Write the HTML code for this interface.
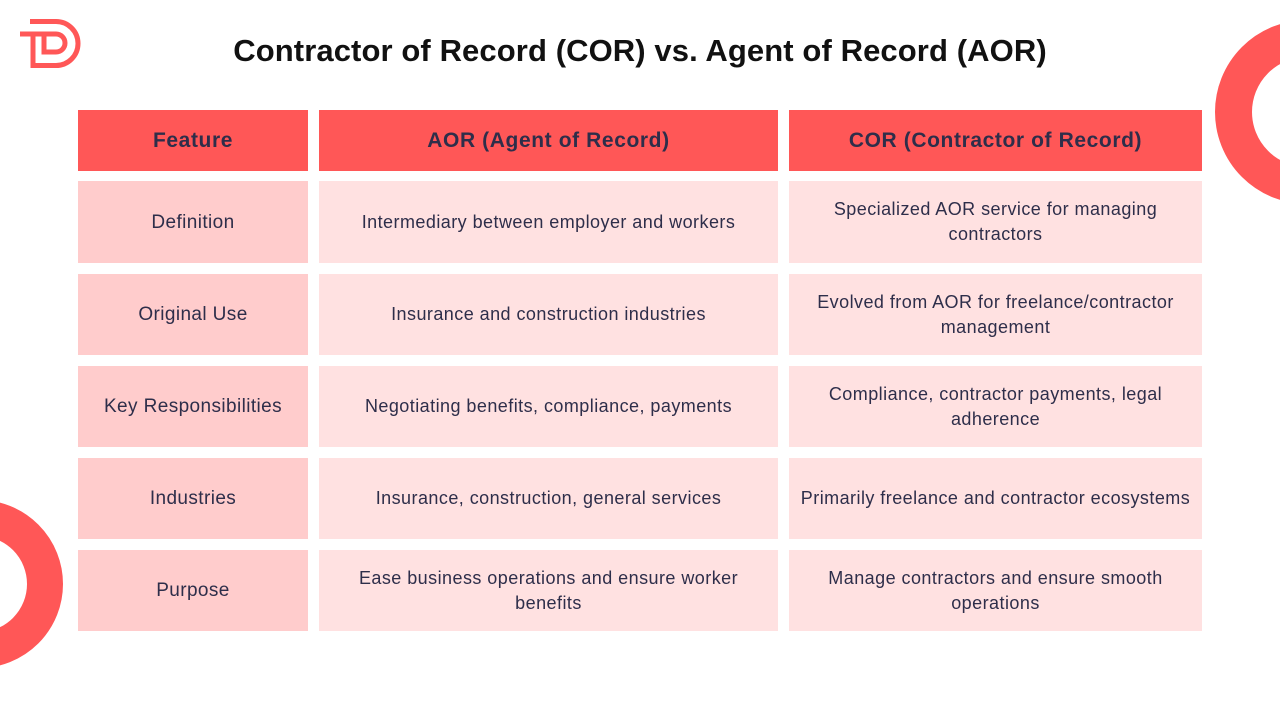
<!DOCTYPE html>
<html><head><meta charset="utf-8"><style>
body{margin:0;width:1280px;height:720px;background:#fff;position:relative;overflow:hidden;font-family:"Liberation Sans",sans-serif}
.t{position:absolute;left:0;width:1280px;top:33px;text-align:center;font-size:31px;font-weight:bold;color:#111;letter-spacing:0.1px}
.c{position:absolute;display:flex;align-items:center;justify-content:center;text-align:center;color:#2e2e4a;font-size:18px;letter-spacing:0.45px;line-height:25px;box-sizing:border-box;padding:0 10px}
.h{background:#ff5757;font-size:21px;font-weight:bold;letter-spacing:0.6px}
.f{background:#ffcccc;font-size:19px;letter-spacing:0.4px}
.o{background:#ffe1e1}
.ring{position:absolute;border-radius:50%;border-style:solid;border-color:#ff5757;box-sizing:border-box}
</style></head><body>
<div class="ring" style="left:1215px;top:20px;width:184px;height:184px;border-width:37px"></div>
<div class="ring" style="left:-105px;top:500px;width:168px;height:168px;border-width:36px"></div>
<svg style="position:absolute;left:18px;top:18px" width="68" height="52" viewBox="0 0 68 52">
<g fill="none" stroke="#ff5757" stroke-width="5">
<path d="M12 3.5 H38 A22 22 0 0 1 38 47.5 H15 V16"/>
<path d="M2 16 H38 A9 9 0 0 1 38 34 H26 V16"/>
</g></svg>
<div class="t">Contractor of Record (COR) vs. Agent of Record (AOR)</div>
<div class="c h" style="left:78px;top:110px;width:230px;height:61px">Feature</div>
<div class="c h" style="left:319px;top:110px;width:459px;height:61px">AOR (Agent of Record)</div>
<div class="c h" style="left:789px;top:110px;width:413px;height:61px">COR (Contractor of Record)</div>

<div class="c f" style="left:78px;top:181px;width:230px;height:82px">Definition</div>
<div class="c o" style="left:319px;top:181px;width:459px;height:82px">Intermediary between employer and workers</div>
<div class="c o" style="left:789px;top:181px;width:413px;height:82px;padding:0 30px">Specialized AOR service for managing contractors</div>

<div class="c f" style="left:78px;top:274px;width:230px;height:81px">Original Use</div>
<div class="c o" style="left:319px;top:274px;width:459px;height:81px">Insurance and construction industries</div>
<div class="c o" style="left:789px;top:274px;width:413px;height:81px;padding:0 20px">Evolved from AOR for freelance/contractor management</div>

<div class="c f" style="left:78px;top:366px;width:230px;height:81px">Key Responsibilities</div>
<div class="c o" style="left:319px;top:366px;width:459px;height:81px">Negotiating benefits, compliance, payments</div>
<div class="c o" style="left:789px;top:366px;width:413px;height:81px;padding:0 30px">Compliance, contractor payments, legal adherence</div>

<div class="c f" style="left:78px;top:458px;width:230px;height:81px">Industries</div>
<div class="c o" style="left:319px;top:458px;width:459px;height:81px">Insurance, construction, general services</div>
<div class="c o" style="left:789px;top:458px;width:413px;height:81px;padding:0 2px">Primarily freelance and contractor ecosystems</div>

<div class="c f" style="left:78px;top:550px;width:230px;height:81px">Purpose</div>
<div class="c o" style="left:319px;top:550px;width:459px;height:81px;padding:0 20px">Ease business operations and ensure worker benefits</div>
<div class="c o" style="left:789px;top:550px;width:413px;height:81px;padding:0 30px">Manage contractors and ensure smooth operations</div>
</body></html>
